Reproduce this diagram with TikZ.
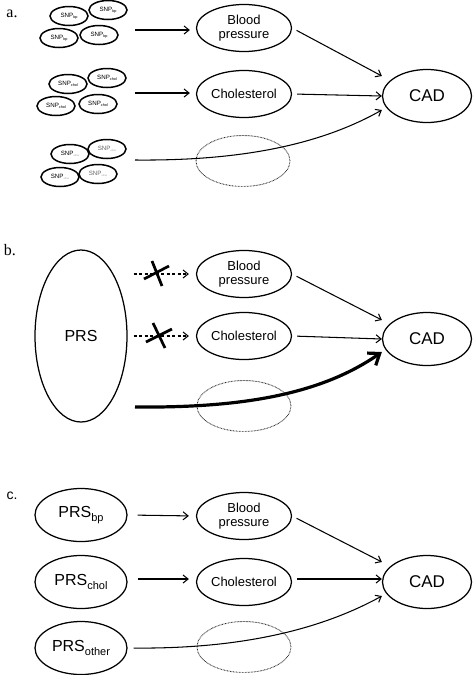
\documentclass[tikz,border=0pt]{standalone}
\usepackage{fontspec}
\setmainfont{Liberation Sans}
\newfontfamily\serifff{Liberation Serif}
\usetikzlibrary{arrows.meta,shapes.geometric,calc}
\newcommand\mysub[2][0.4ex]{\raisebox{-#1}{#2}}
\newcommand\snpsub[1]{SNP\raisebox{-0.3ex}{\fontsize{3.8}{4}\selectfont #1}}
\begin{document}
\begin{tikzpicture}[x=1pt,y=-1pt,
 el/.style={draw,ellipse,line width=1.25pt,inner xsep=-8pt,inner ysep=0pt,minimum width=95pt,minimum height=47pt,font=\fontsize{13}{13.5}\selectfont,align=center},
 dotel/.style={draw=black!85,ellipse,line width=0.9pt,dash pattern=on 0.7pt off 0.8pt,inner sep=0pt,minimum width=94pt,minimum height=51pt},
 cad/.style={el,minimum width=89pt,minimum height=53pt,font=\fontsize{17}{17}\selectfont},
 prs/.style={el,minimum width=92pt,minimum height=53pt,font=\fontsize{16}{16}\selectfont},
 snp/.style={draw,ellipse,line width=1.5pt,inner sep=0pt,minimum width=38pt,minimum height=19pt,font=\fontsize{6.2}{6.2}\selectfont},
 arr/.style={-{Straight Barb[length=5pt,width=8pt]},line width=1.05pt},
 darr/.style={arr,dash pattern=on 3pt off 2.5pt},
 thickarr/.style={-{Straight Barb[length=10pt,width=15pt,line width=3.2pt]},line width=3.2pt},
 crossln/.style={line width=2.7pt},
 lab/.style={font=\serifff\fontsize{16}{16}\selectfont}]
\useasboundingbox (0,0) rectangle (474,675);

% ---------- panel a ----------
\node[lab] (la) at (12,14) {a.};
\node[snp] (a1) at (69,16) {\snpsub{bp}};
\node[snp] (a2) at (108,10) {\snpsub{bp}};
\node[snp] (a3) at (59,38) {\snpsub{bp}};
\node[snp] (a4) at (99,35) {\snpsub{bp}};
\node[snp] (a5) at (68,84) {\snpsub{chol}};
\node[snp] (a6) at (107,78) {\snpsub{chol}};
\node[snp] (a7) at (56,106) {\snpsub{chol}};
\node[snp] (a8) at (98,104) {\snpsub{chol}};
\node[snp] (a9) at (70,154) {SNP\raisebox{-0.3ex}{\fontsize{2.5}{3}\selectfont\color{black!40}other}};
\node[snp] (a10) at (107,149) {\color{black!60}SNP\raisebox{-0.3ex}{\fontsize{2.5}{3}\selectfont\color{black!40}other}};
\node[snp] (a11) at (60,177) {SNP\raisebox{-0.3ex}{\fontsize{2.5}{3}\selectfont\color{black!40}other}};
\node[snp] (a12) at (98,174) {\color{black!60}SNP\raisebox{-0.3ex}{\fontsize{2.5}{3}\selectfont\color{black!40}other}};
\coordinate (as1) at (135,30);
\coordinate (as2) at (135,93);
\coordinate (as3) at (135,160);

\node[el] (abp) at (244,28) {Blood\\pressure};
\node[el] (achol) at (244,94) {Cholesterol};
\node[dotel] (adot) at (243,161) {};
\node[cad] (acad) at (427,96) {CAD};

\draw[arr,shorten >=6pt] (as1) -- (abp.west |- as1);
\draw[arr,shorten >=6pt] (as2) -- (abp.west |- as2);
\draw[arr,shorten <=5pt] (abp.east) -- ($(acad.west)+(0,-20)$);
\draw[arr,shorten <=5pt] (achol.east) -- (acad.west);
\draw[arr] (as3) .. controls (240,161) and (320,145) .. ($(acad.west)+(0,14)$);

% ---------- panel b ----------
\node[lab] (lb) at (10,250) {b.};
\node[prs,minimum height=172pt] (bprs) at (81,336) {PRS};
\node[el] (bbp) at (244,274) {Blood\\pressure};
\node[el] (bchol) at (244,336) {Cholesterol};
\node[dotel] (bdot) at (244,406) {};
\node[cad] (bcad) at (427,339) {CAD};

\draw[darr,shorten <=6pt,shorten >=7pt] (bprs.east |- bbp.west) -- (bbp.west);
\draw[darr,shorten <=6pt,shorten >=7pt] (bprs.east |- bchol.west) -- (bchol.west);
\coordinate (bx1) at (157,274);
\coordinate (bx2) at (159,336);
\draw[crossln] ($(bx1)+(-13,5)$) -- ($(bx1)+(12,-8)$);
\draw[crossln] ($(bx1)+(-5,-13)$) -- ($(bx1)+(5,12)$);
\draw[crossln] ($(bx2)+(-13,6)$) -- ($(bx2)+(13,-7)$);
\draw[crossln] ($(bx2)+(-6,-13)$) -- ($(bx2)+(6,12)$);
\draw[arr,shorten <=5pt] (bbp.east) -- ($(bcad.west)+(0,-19)$);
\draw[arr,shorten <=5pt] (bchol.east) -- (bcad.west);
\coordinate (bs3) at (135,407);
\draw[thickarr] (bs3) .. controls (240,408) and (320,395) .. ($(bcad.west)+(0,13)$);

% ---------- panel c ----------
\node[font=\fontsize{14}{14}\selectfont] (lc) at (12,496) {c.};
\node[prs] (cprs1) at (81,515) {PRS\mysub{\fontsize{11}{11}\selectfont bp}};
\node[prs] (cprs2) at (81,582) {PRS\mysub{\fontsize{11}{11}\selectfont chol}};
\node[prs] (cprs3) at (81,648) {PRS\mysub{\fontsize{11}{11}\selectfont other}};
\node[el] (cbp) at (244,516) {Blood\\pressure};
\node[el] (cchol) at (244,582) {Cholesterol};
\node[dotel] (cdot) at (244,647) {};
\node[cad] (ccad) at (427,582) {CAD};

\draw[arr,shorten <=10pt,shorten >=7pt] (cprs1.east) -- (cbp.west);
\draw[arr,shorten <=10pt,shorten >=7pt] ($(cprs2.east)+(0,-3)$) -- ($(cchol.west)+(0,-3)$);
\draw[arr,shorten <=5pt] (cbp.east) -- ($(ccad.west)+(0,-20)$);
\draw[arr,shorten <=5pt] ($(cchol.east)+(0,-3)$) -- ($(ccad.west)+(0,-3)$);
\draw[arr,shorten <=6pt] (cprs3.east) .. controls (240,649) and (320,630) .. ($(ccad.west)+(0,14)$);
\end{tikzpicture}
\end{document}
